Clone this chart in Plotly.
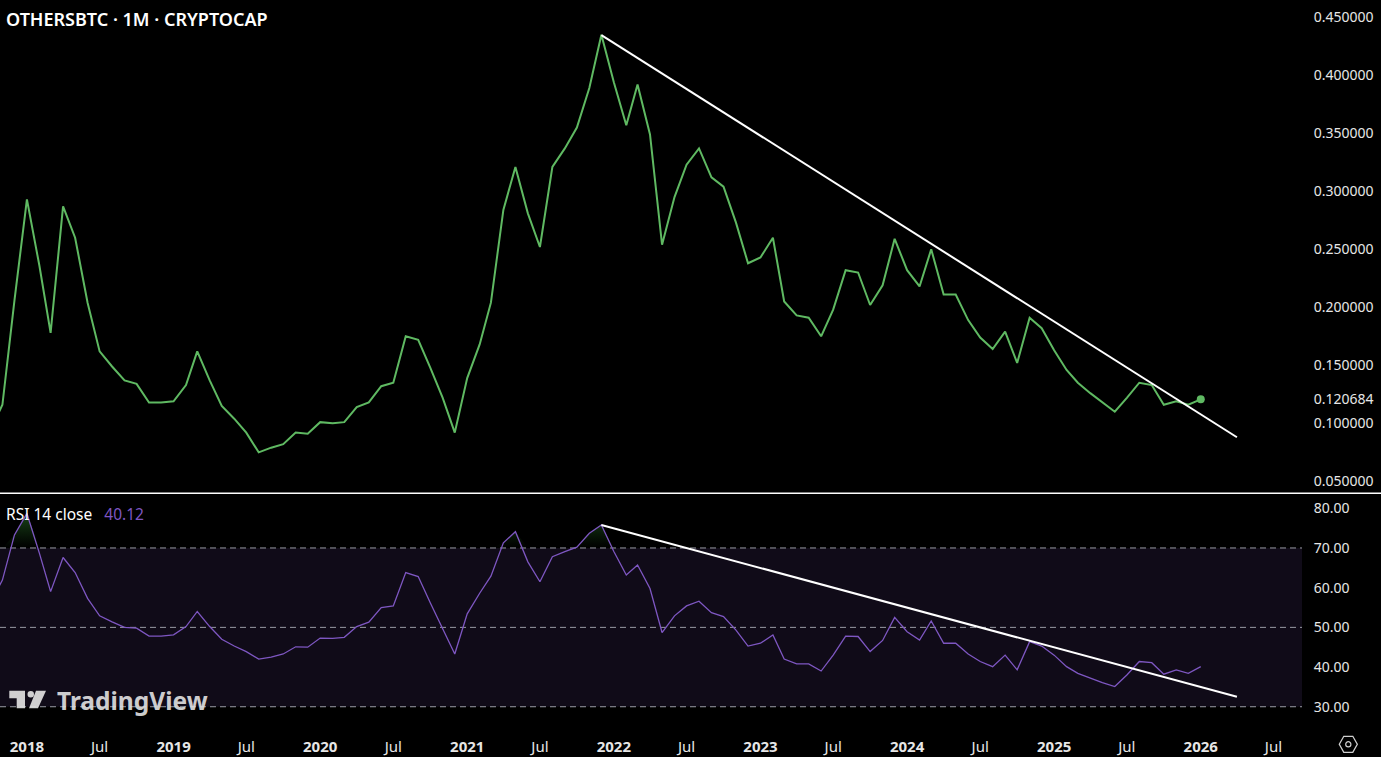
import numpy as np
import pandas as pd
import plotly.graph_objects as go

# monthly closes, Oct 2017 .. Jan 2026
months = pd.date_range("2017-10-01", "2026-01-01", freq="MS")

price = [
    0.093, 0.116, 0.206,
    0.293, 0.236, 0.178, 0.287, 0.260, 0.204, 0.162, 0.149, 0.137, 0.134, 0.118, 0.118,
    0.119, 0.133, 0.162, 0.137, 0.115, 0.104, 0.092, 0.075, 0.079, 0.082, 0.092, 0.091,
    0.101, 0.100, 0.101, 0.114, 0.118, 0.132, 0.135, 0.175, 0.172, 0.148, 0.122, 0.092,
    0.139, 0.168, 0.204, 0.284, 0.321, 0.281, 0.252, 0.321, 0.337, 0.355, 0.389, 0.435,
    0.394, 0.357, 0.392, 0.349, 0.254, 0.295, 0.323, 0.337, 0.312, 0.304, 0.273, 0.238,
    0.243, 0.260, 0.205, 0.193, 0.191, 0.175, 0.198, 0.232, 0.230, 0.202, 0.219, 0.259,
    0.232, 0.218, 0.250, 0.211, 0.211, 0.189, 0.174, 0.164, 0.179, 0.152, 0.191, 0.182,
    0.163, 0.146, 0.135, 0.126, 0.118, 0.110, 0.122, 0.135, 0.133, 0.116, 0.119, 0.116,
    0.120684,
]

rsi = [
    56.0, 61.9, 73.3,
    78.7, 68.7, 59.0, 67.6, 63.8, 57.3, 52.9, 51.4, 50.0, 49.8, 47.8, 47.8,
    48.1, 50.2, 54.0, 50.2, 47.0, 45.3, 43.9, 42.0, 42.5, 43.3, 45.1, 45.0,
    47.3, 47.2, 47.5, 50.2, 51.3, 55.0, 55.4, 63.8, 62.8, 56.2, 49.8, 43.3,
    53.4, 58.6, 62.9, 71.3, 74.1, 66.5, 61.5, 67.8, 69.1, 70.2, 73.7, 75.8,
    69.1, 63.2, 65.7, 59.8, 48.7, 52.9, 55.4, 56.6, 53.7, 52.7, 49.3, 45.3,
    46.0, 48.1, 42.0, 40.8, 40.8, 39.0, 43.0, 47.8, 47.7, 43.9, 46.7, 52.5,
    48.9, 46.8, 51.6, 46.0, 46.0, 43.3, 41.4, 40.1, 43.0, 39.3, 46.4, 45.3,
    43.0, 40.1, 38.4, 37.2, 36.1, 35.1, 38.0, 41.4, 41.1, 38.2, 39.3, 38.4,
    40.12,
]

# hand drawn trendlines
trend_dates = ["2021-12-01", "2026-04-01"]
price_trend = [0.4347, 0.088]
rsi_trend = [75.8, 32.5]

price_ticks = [0.05, 0.10, 0.15, 0.20, 0.25, 0.30, 0.35, 0.40, 0.45]
rsi_ticks = [30, 40, 50, 60, 70, 80]
rsi_levels = [70, 50, 30]
tick_years = list(range(2018, 2027))

GREEN = "#5fb962"
PURPLE = "#7e57c2"
TXT = "#e6e6e6"

# plot area in pixels (margins l=0, t=0)
W_PLOT, H_PLOT = 1302, 725


def px(x):
    return x / W_PLOT


def py(y):
    return (H_PLOT - y) / H_PLOT


x_vals, x_text = [], []
for yr in tick_years:
    x_vals += [f"{yr}-01-01", f"{yr}-07-01"]
    x_text += [f"<b>{yr}</b>", "Jul"]

fig = go.Figure()

# price pane
fig.add_trace(go.Scatter(x=months, y=price, mode="lines",
                         line=dict(color=GREEN, width=2), yaxis="y", hoverinfo="skip"))
fig.add_trace(go.Scatter(x=months[-1:], y=price[-1:], mode="markers",
                         marker=dict(color=GREEN, size=8), yaxis="y"))
fig.add_trace(go.Scatter(x=trend_dates, y=price_trend, mode="lines",
                         line=dict(color="white", width=2), yaxis="y"))

# rsi pane: overbought fill
fig.add_trace(go.Scatter(x=months, y=[70] * len(rsi), mode="lines",
                         line=dict(width=0), yaxis="y2", hoverinfo="skip"))
fig.add_trace(go.Scatter(x=months, y=np.maximum(rsi, 70), mode="lines",
                         line=dict(width=0), fill="tonexty",
                         fillgradient=dict(type="vertical",
                                           colorscale=[[0, "rgba(40,120,40,0)"],
                                                       [1, "rgba(60,160,60,0.45)"]]),
                         yaxis="y2", hoverinfo="skip"))
fig.add_trace(go.Scatter(x=months, y=rsi, mode="lines",
                         line=dict(color=PURPLE, width=1.3), yaxis="y2"))
fig.add_trace(go.Scatter(x=trend_dates, y=rsi_trend, mode="lines",
                         line=dict(color="white", width=2), yaxis="y2"))

shapes = [
    dict(type="rect", xref="paper", yref="y2", x0=0, x1=1, y0=30, y1=70,
         fillcolor="#100b18", line=dict(width=0), layer="below"),
    dict(type="line", xref="paper", yref="paper", x0=0, x1=px(1381), y0=py(493.3), y1=py(493.3),
         line=dict(color="white", width=1.5)),
]
for lv in rsi_levels:
    shapes.append(dict(type="line", xref="paper", yref="y2", x0=0, x1=1, y0=lv, y1=lv,
                       line=dict(color="#9a9ca4", width=1, dash="6px,4px"), layer="below"))

# TradingView logo
logo_col = "rgba(225,225,225,0.92)"
shapes.append(dict(type="path", xref="paper", yref="paper", fillcolor=logo_col, line=dict(width=0),
                   path=f"M{px(9.3)},{py(690.7)} L{px(25)},{py(690.7)} L{px(25)},{py(708.3)} "
                        f"L{px(16.7)},{py(708.3)} L{px(16.7)},{py(698.3)} L{px(9.3)},{py(698.3)} Z"))
shapes.append(dict(type="circle", xref="paper", yref="paper", fillcolor=logo_col, line=dict(width=0),
                   x0=px(27.5), x1=px(34), y0=py(691), y1=py(697.5)))
shapes.append(dict(type="path", xref="paper", yref="paper", fillcolor=logo_col, line=dict(width=0),
                   path=f"M{px(36)},{py(690.7)} L{px(46)},{py(690.7)} L{px(38)},{py(708.3)} "
                        f"L{px(29)},{py(708.3)} Z"))

# settings icon
cx, cy, r = 1348.3, 744.3, 9
hexpts = [(cx - r, cy), (cx - r / 2, cy - 8), (cx + r / 2, cy - 8), (cx + r, cy),
          (cx + r / 2, cy + 8), (cx - r / 2, cy + 8)]
shapes.append(dict(type="path", xref="paper", yref="paper", line=dict(color="#cfcfcf", width=1.3),
                   path="M" + " L".join(f"{px(a)},{py(b)}" for a, b in hexpts) + " Z"))
shapes.append(dict(type="circle", xref="paper", yref="paper", line=dict(color="#cfcfcf", width=1.2),
                   x0=px(cx - 2.6), x1=px(cx + 2.6), y0=py(cy - 2.6), y1=py(cy + 2.6)))

annotations = [
    dict(text="OTHERSBTC · 1M · CRYPTOCAP", xref="paper", yref="paper", x=px(4), y=py(5),
         xanchor="left", yanchor="top", showarrow=False,
         font=dict(family="Noto Sans", size=18, color="white", weight=600)),
    dict(text=f"RSI 14 close&nbsp;&nbsp;&nbsp;<span style='color:{PURPLE}'>{rsi[-1]:.2f}</span>",
         xref="paper", yref="paper", x=px(4), y=py(514), xanchor="left", yanchor="middle",
         showarrow=False, font=dict(family="Noto Sans", size=15.5, color="white")),
    dict(text="<b>TradingView</b>", xref="paper", yref="paper", x=px(55), y=py(700),
         xanchor="left", yanchor="middle", showarrow=False,
         font=dict(family="Noto Sans", size=24.5, color=logo_col)),
]

price_vals = price_ticks + [price[-1]]
fig.update_layout(
    width=1381, height=757,
    margin=dict(l=0, r=79, t=0, b=32),
    paper_bgcolor="black", plot_bgcolor="black",
    showlegend=False,
    font=dict(family="Noto Sans", color=TXT),
    shapes=shapes,
    annotations=annotations,
    xaxis=dict(type="date", range=["2017-10-26", "2026-09-10"], anchor="y2",
               tickvals=x_vals, ticktext=x_text, showgrid=False, zeroline=False,
               ticks="outside", ticklen=8, tickcolor="rgba(0,0,0,0)",
               tickfont=dict(size=15, color=TXT), showline=False),
    yaxis=dict(domain=[py(492), 1], range=[0.0408, 0.4649], side="right", anchor="x",
               tickvals=price_vals, ticktext=[f"{v:.6f}" for v in price_vals],
               showgrid=False, zeroline=False, ticks="outside", ticklen=8,
               tickcolor="rgba(0,0,0,0)", tickfont=dict(size=14, color=TXT)),
    yaxis2=dict(domain=[0, py(494)], range=[25.4, 83.6], side="right", anchor="x",
                tickvals=rsi_ticks, ticktext=[f"{v:.2f}" for v in rsi_ticks],
                showgrid=False, zeroline=False, ticks="outside", ticklen=8,
                tickcolor="rgba(0,0,0,0)", tickfont=dict(size=14, color=TXT)),
)

# drop the default page margin so the figure sits at the window's corner
fig.write_html("out.html", config={"displayModeBar": False},
               post_script="document.body.style.margin='0';document.body.style.background='black';")
